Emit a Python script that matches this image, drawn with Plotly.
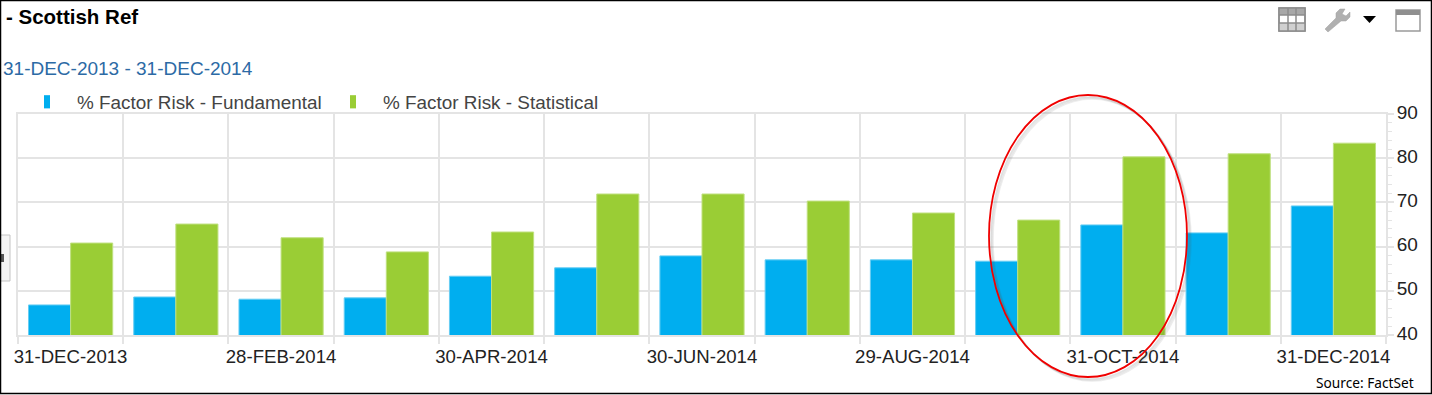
import plotly.graph_objects as go

W, H = 1432, 395
PL, PR, PT, PB = 18, 1386, 114, 335

dates = ["31-DEC-2013", "31-JAN-2014", "28-FEB-2014", "31-MAR-2014", "30-APR-2014", "30-MAY-2014", "30-JUN-2014",
         "31-JUL-2014", "29-AUG-2014", "30-SEP-2014", "31-OCT-2014", "28-NOV-2014", "31-DEC-2014"]
tick_labels = ["31-DEC-2013", "", "28-FEB-2014", "", "30-APR-2014", "", "30-JUN-2014",
               "", "29-AUG-2014", "", "31-OCT-2014", "", "31-DEC-2014"]
fundamental = [46.8, 48.6, 48.1, 48.4, 53.3, 55.2, 57.9, 57.0, 57.0, 56.7, 64.9, 63.1, 69.2]
statistical = [60.8, 65.1, 62.0, 58.8, 63.3, 71.9, 71.9, 70.3, 67.6, 66.0, 80.3, 81.0, 83.4]
y_ticks = [40, 50, 60, 70, 80, 90]

TEXT = "Liberation Sans"
fx = lambda v: (v - PL) / (PR - PL)
fy = lambda v: (PB - v) / (PB - PT)

fig = go.Figure()
fig.add_bar(x=dates, y=fundamental, name="% Factor Risk - Fundamental",
            marker=dict(color="#00aeef", line=dict(color="#66cdf3", width=1)))
fig.add_bar(x=dates, y=statistical, name="% Factor Risk - Statistical",
            marker=dict(color="#9acd35", line=dict(color="#bfe07f", width=1)))


def rect(x0, y0, x1, y1, **kw):
    fig.add_shape(type="rect", xref="paper", yref="paper", x0=fx(x0), x1=fx(x1), y0=fy(y0), y1=fy(y1), **kw)


def line(x0, y0, x1, y1, color, width=1):
    fig.add_shape(type="line", xref="paper", yref="paper", x0=fx(x0), x1=fx(x1), y0=fy(y0), y1=fy(y1),
                  line=dict(color=color, width=width))


def path(points, **kw):
    d = "M" + "L".join(f"{fx(a):.5f},{fy(b):.5f}" for a, b in points) + "Z"
    fig.add_shape(type="path", xref="paper", yref="paper", path=d, **kw)


# ellipse with soft shadow
for off, op in [(4, 0.10), (3, 0.12), (2, 0.16)]:
    fig.add_shape(type="circle", xref="paper", yref="paper", x0=fx(989 + off), x1=fx(1187 + off),
                  y0=fy(95 + off), y1=fy(377 + off), line=dict(color="#555555", width=1.5), opacity=op, layer="above")
fig.add_shape(type="circle", xref="paper", yref="paper", x0=fx(989), x1=fx(1187), y0=fy(95), y1=fy(377),
              line=dict(color="#f00000", width=1.8), layer="above")

# grid icon
G = "#8c8c8c"
rect(1279, 8, 1305, 31, fillcolor="#ffffff", line=dict(color=G, width=1.5))
rect(1279, 8, 1305, 15, fillcolor="#a8a8a8", line=dict(width=0))
rect(1279, 23, 1305, 31, fillcolor="#d0d0d0", line=dict(width=0))
for xv in (1288, 1296):
    line(xv, 8, xv, 31, G, 1.5)
for yv in (15, 23):
    line(1279, yv, 1305, yv, G, 1.5)
rect(1279, 8, 1305, 31, line=dict(color=G, width=1.5))

# wrench icon
path([(1325, 29), (1328, 32), (1341, 21), (1346, 21), (1350, 17), (1350, 12), (1346, 16), (1342, 14),
      (1345, 9), (1340, 9), (1336, 13), (1336, 18)], fillcolor="#b0b0b0", line=dict(color="#a0a0a0", width=0.5))
# dropdown arrow
path([(1363, 16), (1376, 16), (1369.5, 23)], fillcolor="#000000", line=dict(width=0))
# window icon
rect(1396, 10, 1420, 31, fillcolor="#ffffff", line=dict(color="#9a9a9a", width=1.5))
rect(1396, 10, 1420, 15, fillcolor="#8f8f8f", line=dict(width=0))

# collapse handle on the left edge
rect(-4, 235, 10, 281, fillcolor="#f4f4f4", line=dict(color="#c4c4c4", width=1))
rect(0, 254, 4, 262, fillcolor="#555555", line=dict(width=0))
# frame
rect(0.5, 0.5, 1431.5, 393.5, line=dict(color="#000000", width=1.5), layer="above")


def note(text, x, y, size, color, family=TEXT, bold=False, anchor="left"):
    fig.add_annotation(text=f"<b>{text}</b>" if bold else text, xref="paper", yref="paper", x=fx(x), y=fy(y),
                       xanchor=anchor, yanchor="middle", showarrow=False, borderpad=0, xshift=0,
                       font=dict(size=size, color=color, family=family))


note("- Scottish Ref", 5, 16, 20.5, "#000000", bold=True)
note("31-DEC-2013 - 31-DEC-2014", 2, 68, 19, "#2c6aa5")
note("Source: FactSet", 1415, 382, 13.7, "#000000", family="Noto Sans", anchor="right")

fig.update_layout(
    width=W, height=H, autosize=False, paper_bgcolor="#ffffff", plot_bgcolor="#ffffff",
    margin=dict(l=PL, r=W - PR, t=PT, b=H - PB, pad=0),
    barmode="group", bargap=0.2, bargroupgap=0,
    font=dict(family=TEXT, size=17, color="#222222"),
    showlegend=True,
    legend=dict(orientation="h", xref="paper", yref="paper", x=fx(37), xanchor="left", y=fy(83), yanchor="top",
                font=dict(size=18.9, color="#444444"), bgcolor="rgba(0,0,0,0)",
                entrywidthmode="pixels", entrywidth=261, itemwidth=30, itemclick=False, traceorder="normal"),
)
fig.update_xaxes(type="category", categoryorder="array", categoryarray=dates, tickmode="array", tickvals=dates,
                 ticktext=tick_labels, tickson="boundaries", tickangle=0, showgrid=True, gridcolor="#e4e4e4",
                 gridwidth=2, showline=True, mirror=True, linecolor="#e4e4e4", linewidth=2, ticks="outside", ticklen=7,
                 tickwidth=2, tickcolor="#e4e4e4", tickfont=dict(size=18.6, color="#222222", family=TEXT),
                 ticklabelstandoff=4, automargin=False)
fig.update_yaxes(range=[40, 90], side="right", tickmode="array", tickvals=y_ticks, showgrid=True,
                 gridcolor="#e4e4e4", gridwidth=2, showline=True, mirror=True, linecolor="#e4e4e4", linewidth=2,
                 ticks="outside", ticklen=6, tickwidth=2, tickcolor="#e4e4e4",
                 tickfont=dict(size=19, color="#222222", family=TEXT),
                 ticklabelstandoff=-1, ticklabelshift=-2, zeroline=False, automargin=False,
                 minor=dict(dtick=2, ticks="outside", ticklen=4, tickcolor="#e4e4e4", tickwidth=1, showgrid=False))

post = """
document.body.style.margin='0';
document.body.style.overflow='hidden';
document.querySelectorAll('.legendpoints path').forEach(function(p){
  p.style.strokeWidth='0';
  p.style.transform='translate(10px,0px) scale(0.5,1.1)';
});
"""
fig.write_html("out.html", post_script=post, config=dict(displayModeBar=False))
